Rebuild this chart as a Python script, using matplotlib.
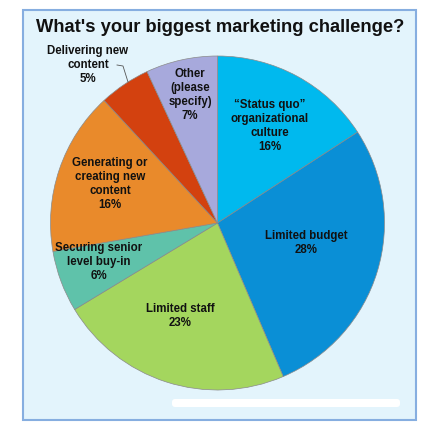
import matplotlib
matplotlib.use("Agg")
import matplotlib.pyplot as plt
from matplotlib.patches import Rectangle, FancyBboxPatch

plt.rcParams["font.family"] = ["Liberation Sans", "DejaVu Sans"]

W, H = 424, 430

labels = ["\u201cStatus quo\u201d\norganizational\nculture", "Limited budget", "Limited staff",
          "Securing senior\nlevel buy-in", "Generating or\ncreating new\ncontent",
          "Delivering new\ncontent", "Other\n(please\nspecify)"]
shares = [16, 28, 23, 6, 16, 5, 7]
colors = ["#00b9ee", "#0a8fd6", "#a4d65e", "#5fc2aa", "#e98a2b", "#d3410f", "#a7a9dc"]

# label centres in pixel coords (y from top)
label_pos = [(270, 126), (306, 243), (180, 316), (99, 262), (110, 184), (88, 65), (190, 95)]

PANEL = "#e3f4fc"
BORDER = "#86aee0"

fig = plt.figure(figsize=(W / 100, H / 100), dpi=100)
ax = fig.add_axes([0, 0, 1, 1])
ax.set_xlim(0, W)
ax.set_ylim(0, H)
ax.axis("off")

ax.add_patch(Rectangle((23, H - 420), 393, 410, fc=PANEL, ec=BORDER, lw=1.5, zorder=0))

cx, cy, r = 217.5, H - 223, 167
ax.pie(shares, colors=colors, startangle=90, counterclock=False,
       center=(cx, cy), radius=r, frame=True,
       wedgeprops=dict(ec="#8a8a8a", lw=0.5))
ax.set_xlim(0, W)
ax.set_ylim(0, H)
ax.axis("off")

for lab, v, (x, y) in zip(labels, shares, label_pos):
    ax.text(x, H - y, f"{lab}\n{v}%", ha="center", va="center", fontsize=8.3,
            fontweight="bold", color="#111111", linespacing=1.2, zorder=5)

# leader line for the small slice
ax.plot([117, 123, 128], [H - 65, H - 66, H - 82], color="#555555", lw=0.6, zorder=5)

ax.text(220, H - 27, "What's your biggest marketing challenge?", ha="center", va="center",
        fontsize=13.2, fontweight="bold", color="#111111", zorder=5)

# erased footer strip
ax.add_patch(FancyBboxPatch((172, H - 407), 228, 8, boxstyle="round,pad=0,rounding_size=3",
                            fc="white", ec="none", zorder=4))

fig.savefig("out.png", dpi=100, facecolor="white")
